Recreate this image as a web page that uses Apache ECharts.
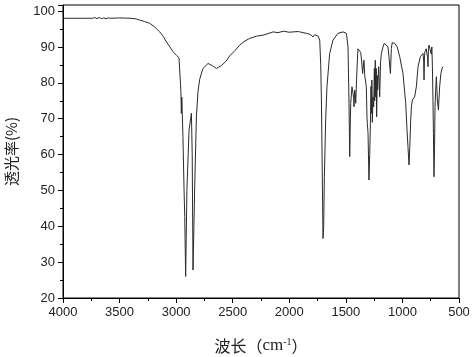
<!DOCTYPE html>
<html>
<head>
<meta charset="utf-8">
<script src="https://cdn.jsdelivr.net/npm/echarts@6/dist/echarts.min.js"></script>
<style>
html,body{margin:0;padding:0;background:#fff;}
#chart{width:474px;height:357px;}
</style>
</head>
<body>
<div id="chart"></div>
<script>
// wavenumbers (cm-1) and transmittance (%)
const wavenumbers = [
  4000,3800,3740,3720,3700,3680,3660,3640,3620,3600,3580,3500,3400,3350,3322,3280,3234,3190,3145,3115,
  3086,3055,3028,2995,2975,2968,2962,2958,2954,2950,2940,2930,2924,2916,2905,2886,2865,2858,2851,2843,
  2836,2821,2807,2792,2763,2718,2680,2644,2600,2560,2527,2480,2439,2400,2350,2290,2232,2180,2144,2100,
  2050,2000,1967,1920,1880,1849,1815,1790,1775,1760,1745,1731,1722,1716,1707,1702,1696,1690,1678,1667,
  1643,1614,1570,1525,1495,1481,1472,1466,1460,1457,1446,1437,1432,1428,1422,1417,1413,1402,1393,1385,
  1378,1369,1360,1352,1340,1333,1327,1319,1313,1310,1304,1296,1289,1283,1278,1274,1270,1266,1260,1254,
  1248,1245,1240,1236,1231,1228,1222,1219,1210,1205,1201,1193,1186,1172,1160,1148,1128,1119,1106,1098,
  1090,1083,1075,1068,1060,1053,1046,1039,1024,1010,995,971,958,951,942,935,927,920,912,900,
  892,877,862,841,818,812,809,805,801,790,783,778,774,770,765,758,752,745,740,735,
  730,726,721,716,712,706,700,695,691,682,676,671,660,650,642
];
const transmittance = [
  98.0,98.0,98.0,98.2,97.9,98.2,97.9,98.1,97.9,98.1,98.0,98.1,98.0,97.8,97.5,97.1,96.6,95.6,94.2,93.0,
  91.4,90.0,88.7,87.6,87.0,86.5,80.0,77.5,71.5,76.0,65.0,50.0,42.7,26.0,50.0,66.8,71.5,60.0,27.8,40.0,
  51.0,70.5,77.5,81.0,84.0,85.4,84.8,84.0,84.8,86.0,87.5,89.0,90.5,91.5,92.4,93.0,93.3,93.8,94.2,94.0,
  94.4,94.1,94.2,94.3,94.0,93.8,93.5,92.8,93.4,93.8,93.0,91.9,85.0,75.2,51.0,36.6,40.0,53.8,70.0,78.9,
  88.2,91.9,93.8,94.2,93.8,90.0,74.3,59.4,70.0,74.3,78.9,79.4,76.0,73.3,78.0,77.0,74.3,83.6,89.5,90.0,
  89.6,88.5,86.0,82.6,86.3,82.0,81.7,78.9,70.0,68.7,65.9,52.9,60.0,68.7,79.0,71.5,80.8,69.0,76.0,73.3,
  84.0,75.0,86.3,76.1,84.0,70.5,82.0,78.0,84.5,80.0,76.1,86.0,88.2,90.0,91.0,91.0,90.0,87.3,82.6,89.6,
  91.2,91.5,90.8,91.0,91.0,90.5,90.0,89.1,87.3,85.0,82.6,74.3,66.0,62.2,57.1,62.0,69.6,73.5,75.2,75.5,
  76.1,78.9,84.5,87.3,88.2,86.0,80.8,87.5,88.7,89.5,90.0,87.0,84.5,89.5,90.5,90.0,90.6,88.0,90.0,84.5,
  75.0,65.9,53.8,62.0,73.3,78.0,81.7,78.0,75.2,72.4,76.0,78.9,82.6,84.0,84.5
];
const xTicks = [4000,3500,3000,2500,2000,1500,1000,500];
const yTicks = [20,30,40,50,60,70,80,90,100];

const points = wavenumbers.map((w, i) => [w, transmittance[i]]);

const chart = echarts.init(document.getElementById('chart'), null, {renderer: 'canvas'});
chart.setOption({
  animation: false,
  backgroundColor: '#fff',
  grid: {left: 63, right: 15, top: 5, bottom: 59, containLabel: false, outerBoundsMode: 'none',
    show: true, borderColor: '#000', borderWidth: 1, backgroundColor: 'transparent'},
  xAxis: {
    type: 'value', inverse: true, min: 500, max: 4000, interval: 500,
    name: '波长（{cm|cm}{sup|-1}）', nameLocation: 'middle', nameGap: 39,
    nameTextStyle: {fontSize: 16, color: '#222', fontFamily: 'Noto Sans CJK SC',
      rich: {
        cm: {fontSize: 17, color: '#222', fontFamily: 'Liberation Serif'},
        sup: {fontSize: 10, verticalAlign: 'top', padding: [0,0,7,0], color: '#222', fontFamily: 'Liberation Serif'}
      }},
    axisLine: {show: true, onZero: false, lineStyle: {color: '#000', width: 1}},
    axisTick: {show: true, inside: false, length: 5, lineStyle: {color: '#000'}},
    minorTick: {show: true, splitNumber: 2, length: 3, lineStyle: {color: '#000'}},
    splitLine: {show: false},
    axisLabel: {fontSize: 13, color: '#222', margin: 8, fontFamily: 'Liberation Sans, Arial',
      formatter: v => xTicks.includes(v) ? String(v) : ''}
  },
  yAxis: {
    type: 'value', min: 20, max: 101.7, interval: 10,
    name: '透光率(%)', nameLocation: 'middle', nameGap: 44, nameRotate: 90,
    nameTextStyle: {fontSize: 15, color: '#222', fontFamily: 'Noto Sans CJK SC, Liberation Sans'},
    axisLine: {show: true, onZero: false, lineStyle: {color: '#000', width: 1}},
    axisTick: {show: true, inside: false, length: 5, lineStyle: {color: '#000'}},
    minorTick: {show: true, splitNumber: 2, length: 3, lineStyle: {color: '#000'}},
    splitLine: {show: false},
    axisLabel: {fontSize: 13, color: '#222', margin: 8, fontFamily: 'Liberation Sans, Arial',
      formatter: v => yTicks.includes(v) ? String(v) : ''}
  },
  series: [{
    type: 'line', data: points, showSymbol: false, symbol: 'none',
    lineStyle: {color: '#2a2a2a', width: 1}, clip: true
  }]
});
</script>
</body>
</html>
